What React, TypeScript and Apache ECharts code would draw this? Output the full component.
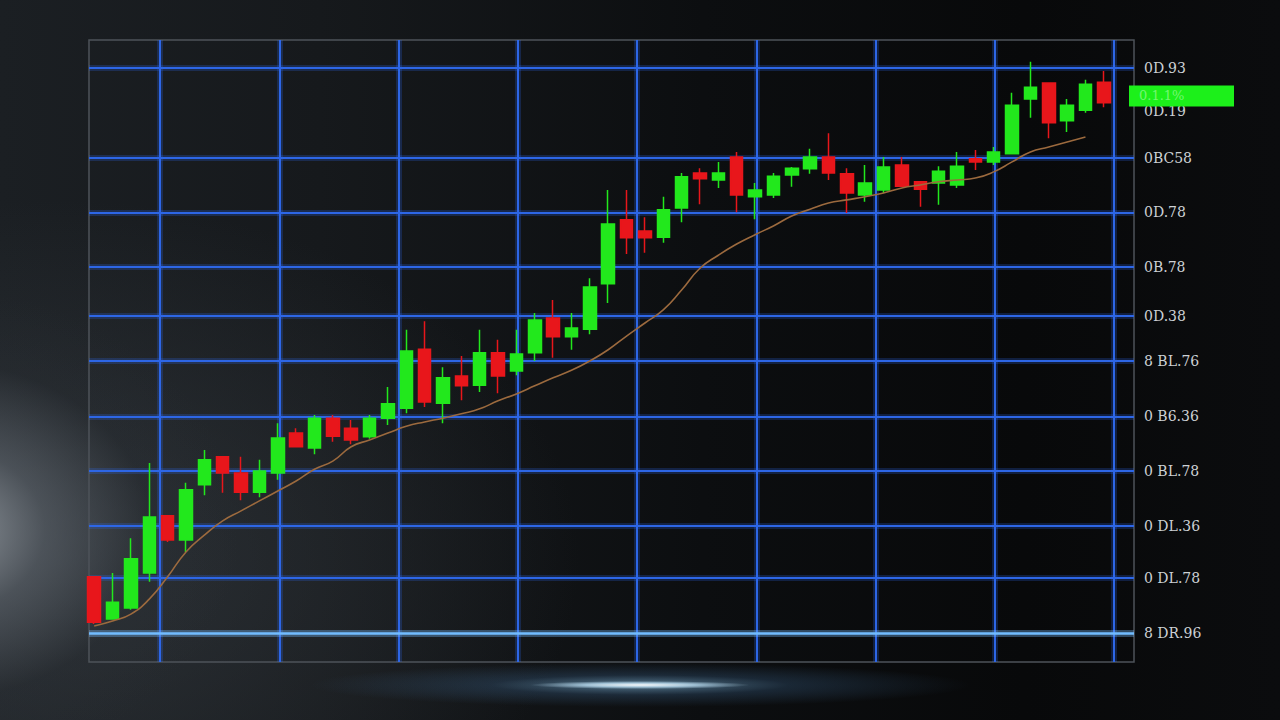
import React, { useEffect, useRef } from "react";
import * as echarts from "echarts";

// ---- Data ----
const openValues = [
  13.7, 6.9, 8.7, 14.3, 23.5, 19.6, 28.5, 33.0, 30.4, 27.3,
  30.4, 36.8, 34.4, 39.2, 37.6, 36.2, 39.2, 40.8, 50.3, 41.6,
  46.0, 44.5, 49.7, 46.8, 49.7, 55.3, 52.3, 53.5, 60.8, 71.1,
  69.3, 68.3, 73.0, 78.6, 77.5, 81.2, 74.8, 75.1, 78.3, 79.3,
  81.2, 78.5, 75.1, 75.9, 79.9, 77.2, 77.0, 76.7, 80.9, 80.4,
  81.7, 90.5, 93.1, 87.0, 88.7, 93.2,
];
const closeValues = [
  6.4, 9.6, 16.6, 23.3, 19.6, 27.7, 32.5, 30.4, 27.3, 30.7,
  36.0, 34.6, 39.2, 36.3, 35.7, 39.2, 41.5, 50.0, 41.8, 45.7,
  44.4, 49.7, 46.0, 49.5, 55.0, 52.3, 53.7, 60.3, 70.4, 68.2,
  68.2, 72.7, 78.0, 77.7, 78.6, 75.1, 75.9, 78.1, 79.4, 81.2,
  78.6, 75.4, 77.0, 79.6, 76.5, 76.0, 78.9, 79.7, 80.4, 82.0,
  89.5, 92.4, 86.7, 89.5, 92.9, 89.9,
];
const lowValues = [
  6.1, 6.8, 8.4, 12.9, 19.3, 17.7, 26.8, 27.2, 26.0, 26.5,
  29.3, 34.5, 33.4, 35.4, 35.0, 35.9, 38.1, 40.0, 41.0, 38.4,
  42.1, 43.4, 43.2, 46.1, 48.4, 48.9, 50.2, 52.7, 57.7, 65.6,
  65.8, 67.4, 70.7, 73.6, 76.2, 72.3, 71.2, 74.6, 76.4, 78.5,
  77.5, 72.2, 74.0, 75.4, 76.4, 73.2, 73.5, 76.2, 79.1, 79.9,
  81.6, 87.5, 84.2, 85.2, 88.3, 89.2,
];
const highValues = [
  13.8, 14.3, 19.9, 32.0, 23.6, 28.8, 34.1, 33.1, 33.0, 32.5,
  38.4, 37.6, 39.7, 39.7, 38.9, 39.7, 44.2, 53.4, 54.8, 47.4,
  49.2, 53.4, 51.8, 53.4, 56.1, 58.2, 56.1, 61.7, 75.9, 75.9,
  71.5, 74.8, 78.6, 79.4, 80.4, 82.0, 77.0, 78.6, 79.6, 82.5,
  85.0, 79.4, 79.9, 81.2, 81.2, 77.3, 79.7, 82.0, 82.3, 82.8,
  91.5, 96.5, 93.2, 90.5, 93.6, 95.0,
];
const maValues: (number | null)[] = [
  5.8, 6.6, 7.7, 10.1, 13.7, 17.7, 20.4, 22.7, 24.3, 25.9,
  27.5, 29.1, 31.0, 32.3, 34.6, 35.7, 36.8, 37.9, 38.6, 39.2,
  39.9, 40.7, 42.0, 43.1, 44.4, 45.7, 46.9, 48.4, 50.2, 52.4,
  54.5, 56.6, 59.8, 63.3, 65.4, 67.2, 68.7, 70.1, 71.7, 72.8,
  73.8, 74.3, 74.8, 75.4, 76.2, 76.7, 77.2, 77.5, 77.8, 78.8,
  80.4, 82.0, 82.8, 83.6, 84.4, null,
];
const categories = openValues.map((_, i) => `D${i + 1}`);

// horizontal grid levels (bottom to top) and their right-side labels
const gridLevels = [4.7, 13.5, 21.9, 30.7, 39.5, 48.4, 55.6, 63.5, 72.3, 81.0, 95.5];
const gridLabels = ["8 DR.96", "0 DL.78", "0 DL.36", "0 BL.78", "0 B6.36", "8 BL.76", "0D.38", "0B.78", "0D.78", "0BC58", "0D.93"];
const extraLevel = 88.6;
const extraLabel = "0D.19";
const lastPriceLevel = 91.0;
const lastPriceLabel = "0.1.1%";
const verticalDivisions = 8;

const UP = "#22e81c";
const DOWN = "#e8161b";
const BLUE = "#2d66e6";
const CLEAR = "rgba(0,0,0,0)";

export default function App() {
  const ref = useRef<HTMLDivElement>(null);

  useEffect(() => {
    if (!ref.current) return;
    const chart = echarts.init(ref.current, null, { renderer: "svg" });
    const ohlc = openValues.map((o, i) => [o, closeValues[i], lowValues[i], highValues[i]]);

    const gridLine = { color: BLUE, width: 2, type: "solid" };
    const glowLine = { color: "rgba(45,110,255,0.22)", width: 6, type: "solid" };
    const bottomLine = { color: "#72bcff", width: 2.5, type: "solid" };
    const bottomGlow = { color: "rgba(120,190,255,0.35)", width: 7, type: "solid" };

    chart.setOption({
      animation: false,
      backgroundColor: "transparent",
      grid: [
        {
          left: 89, top: 40, width: 1045, height: 622,
          show: true, borderColor: "#4d535a", borderWidth: 1.5,
          backgroundColor: "transparent", z: 0,
        },
        { left: 85, top: 40, width: 1028, height: 622 },
        { left: 160, top: 40, width: 954, height: 622 },
      ],
      xAxis: [
        { type: "value", gridIndex: 0, min: 0, max: 1, show: false },
        {
          type: "category", gridIndex: 1, data: categories, boundaryGap: true,
          axisLine: { show: false }, axisTick: { show: false },
          axisLabel: { show: false }, splitLine: { show: false },
        },
        {
          type: "value", gridIndex: 2, min: 0, max: verticalDivisions, interval: 1, z: 0,
          axisLine: { show: false }, axisTick: { show: false }, axisLabel: { show: false },
          splitLine: { show: true, lineStyle: glowLine },
        },
        {
          type: "value", gridIndex: 2, min: 0, max: verticalDivisions, interval: 1, z: 0,
          axisLine: { show: false }, axisTick: { show: false }, axisLabel: { show: false },
          splitLine: { show: true, lineStyle: gridLine },
        },
      ],
      yAxis: [
        { type: "value", gridIndex: 0, min: 0, max: 100, show: false },
        { type: "value", gridIndex: 1, min: 0, max: 100, show: false },
        { type: "value", gridIndex: 2, min: 0, max: 1, show: false },
      ],
      series: [
        {
          type: "line",
          xAxisIndex: 0,
          yAxisIndex: 0,
          data: [],
          silent: true,
          z: 0,
          markLine: {
            z: 0,
            silent: true,
            animation: false,
            symbol: ["none", "none"],
            label: { show: false },
            data: gridLevels.map((v, i) => ({
              yAxis: v,
              lineStyle: i === 0 ? bottomGlow : glowLine,
            })),
          },
        },
        {
          type: "line",
          xAxisIndex: 0,
          yAxisIndex: 0,
          data: [],
          silent: true,
          z: 1,
          markLine: {
            z: 1,
            silent: true,
            animation: false,
            symbol: ["none", "none"],
            label: {
              show: true,
              position: "end",
              distance: 10,
              color: "#cdd1d5",
              fontFamily: "DejaVu Serif",
              fontSize: 14,
            },
            data: [
              ...gridLevels.map((v, i) => ({
                yAxis: v,
                lineStyle: i === 0 ? bottomLine : gridLine,
                label: { formatter: gridLabels[i] },
              })),
              {
                yAxis: extraLevel,
                lineStyle: { color: CLEAR, width: 0 },
                label: { formatter: extraLabel },
              },
            ],
          },
        },
        {
          type: "candlestick",
          xAxisIndex: 1,
          yAxisIndex: 1,
          data: ohlc,
          barWidth: 13,
          z: 6,
          itemStyle: {
            color: UP,
            color0: DOWN,
            borderColor: UP,
            borderColor0: DOWN,
            borderWidth: 1.5,
          },
        },
        {
          type: "line",
          xAxisIndex: 1,
          yAxisIndex: 1,
          data: maValues,
          smooth: true,
          showSymbol: false,
          z: 7,
          lineStyle: { color: "#9c6a3e", width: 1.6 },
          markLine: {
            z: 10,
            silent: true,
            animation: false,
            symbol: ["none", "none"],
            data: [
              {
                yAxis: lastPriceLevel,
                lineStyle: { color: CLEAR, width: 0 },
                label: {
                  show: true,
                  position: "end",
                  distance: 16,
                  formatter: lastPriceLabel,
                  backgroundColor: "#1cf01a",
                  color: "rgba(190,255,190,0.55)",
                  fontFamily: "DejaVu Serif",
                  fontSize: 13,
                  padding: [4, 10],
                  width: 85,
                  height: 13,
                },
              },
            ],
          },
        },
      ],
    });
    return () => chart.dispose();
  }, []);

  const background = [
    "radial-gradient(ellipse 110px 4px at 640px 685px, rgba(255,255,255,0.95) 0%, rgba(200,235,255,0.7) 50%, rgba(120,190,240,0) 100%)",
    "radial-gradient(ellipse 330px 22px at 640px 685px, rgba(140,200,240,0.55) 0%, rgba(70,120,170,0.25) 45%, rgba(30,50,70,0) 100%)",
    "radial-gradient(ellipse 300px 240px at -60px 530px, rgba(155,162,169,0.95) 0%, rgba(98,105,113,0.6) 35%, rgba(45,50,56,0.2) 70%, rgba(20,24,28,0) 100%)",
    "radial-gradient(ellipse 520px 360px at 60px 560px, rgba(60,66,72,0.55) 0%, rgba(30,34,38,0) 100%)",
    "linear-gradient(to right, #1b1f23 0%, #16191c 25%, #0c0e10 55%, #08090a 80%, #0b0c0e 100%)",
  ].join(", ");

  return (
    <div
      style={{
        position: "fixed",
        left: 0,
        top: 0,
        width: 1280,
        height: 720,
        background,
      }}
    >
      <div ref={ref} style={{ width: 1280, height: 720 }} />
    </div>
  );
}
